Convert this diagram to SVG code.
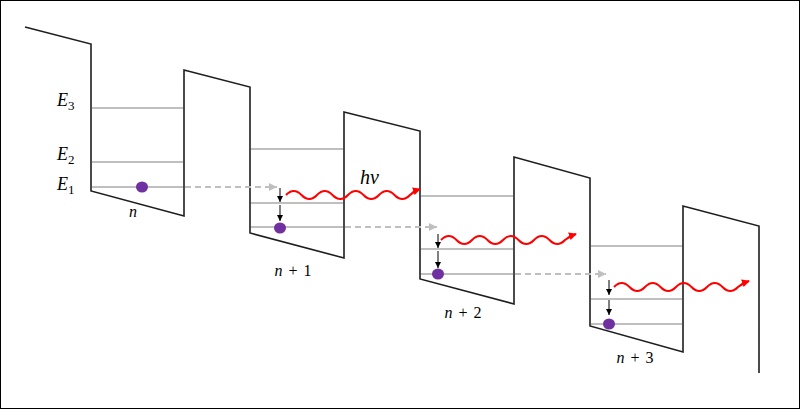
<svg xmlns="http://www.w3.org/2000/svg" width="800" height="409" viewBox="0 0 800 409">
<style>
.band{fill:none;stroke:#1e1e1e;stroke-width:1.6;stroke-linejoin:miter}
.lvl{stroke:#bfbfbf;stroke-width:2}
.dash{stroke:#bfbfbf;stroke-width:2;stroke-dasharray:6 4;fill:none}
.drop{stroke:#000;stroke-width:1;fill:none}
.wave{stroke:#ff0000;stroke-width:2;fill:none}
.e{fill:#7030a0}
.lbl{font-family:"Liberation Serif","DejaVu Serif",serif;fill:#000}
.it{font-style:italic}
.nl{font-size:16px;word-spacing:2px}
</style>
<defs>
<marker id="ag" markerWidth="10" markerHeight="10" refX="8" refY="4" orient="auto" markerUnits="userSpaceOnUse">
<path d="M0,0 L8,4 L0,8 Z" fill="#bfbfbf"/>
</marker>
<marker id="ab" markerWidth="8" markerHeight="8" refX="6" refY="3" orient="auto" markerUnits="userSpaceOnUse">
<path d="M0,0 L6,3 L0,6 Z" fill="#000"/>
</marker>
<marker id="ar" markerWidth="10" markerHeight="10" refX="7" refY="4" orient="auto" markerUnits="userSpaceOnUse">
<path d="M0,0 L8,4 L0,8 Z" fill="#ff0000"/>
</marker>
</defs>
<rect x="0.5" y="0.5" width="799" height="408" fill="#fff" stroke="#000" stroke-width="1"/>

<g id="band-profile">
<polyline class="band" points="25,27 91,44 91,191 184,216 184,70 250,87 250,233 344,258 344,112 420,131 420,279 514,304 514,157 590,178 590,326 683,352 683,206 759,226 759,373"/>
</g>

<g id="well-n">
<line class="lvl" x1="92" y1="108" x2="183" y2="108"/>
<line class="lvl" x1="92" y1="162" x2="183" y2="162"/>
<line class="lvl" x1="92" y1="187" x2="183" y2="187"/>
<ellipse class="e" cx="142" cy="187" rx="6" ry="5.5"/>
<text class="lbl it" x="57" y="106" font-size="18">E<tspan font-size="13" font-style="normal" dy="4">3</tspan></text>
<text class="lbl it" x="57" y="160" font-size="18">E<tspan font-size="13" font-style="normal" dy="4">2</tspan></text>
<text class="lbl it" x="57" y="190" font-size="18">E<tspan font-size="13" font-style="normal" dy="4">1</tspan></text>
<text class="lbl it" x="133" y="217" font-size="16" text-anchor="middle">n</text>
</g>

<g id="well-n1">
<line class="lvl" x1="251" y1="149" x2="343" y2="149"/>
<line class="lvl" x1="251" y1="203" x2="343" y2="203"/>
<line class="lvl" x1="251" y1="227" x2="343" y2="227"/>
<ellipse class="e" cx="280" cy="228" rx="6" ry="5.5"/>
<text class="lbl nl" x="293" y="276" text-anchor="middle"><tspan class="it">n</tspan> + 1</text>
</g>

<g id="well-n2">
<line class="lvl" x1="421" y1="196" x2="513" y2="196"/>
<line class="lvl" x1="421" y1="249" x2="513" y2="249"/>
<line class="lvl" x1="421" y1="274" x2="513" y2="274"/>
<ellipse class="e" cx="438" cy="274" rx="6" ry="5.5"/>
<text class="lbl nl" x="463" y="318" text-anchor="middle"><tspan class="it">n</tspan> + 2</text>
</g>

<g id="well-n3">
<line class="lvl" x1="591" y1="246" x2="682" y2="246"/>
<line class="lvl" x1="591" y1="299" x2="682" y2="299"/>
<line class="lvl" x1="591" y1="324" x2="682" y2="324"/>
<ellipse class="e" cx="609" cy="324" rx="6" ry="5.5"/>
<text class="lbl nl" x="635" y="363" text-anchor="middle"><tspan class="it">n</tspan> + 3</text>
</g>

<g id="connectors">
<line class="dash" x1="185" y1="187" x2="277" y2="187" marker-end="url(#ag)"/>
<line class="dash" x1="345" y1="227" x2="437" y2="227" marker-end="url(#ag)"/>
<line class="dash" x1="515" y1="274" x2="606" y2="274" marker-end="url(#ag)"/>

<line class="drop" x1="280" y1="188" x2="280" y2="202" marker-end="url(#ab)"/>
<line class="drop" x1="280" y1="205" x2="280" y2="221" marker-end="url(#ab)"/>
<line class="drop" x1="438" y1="234" x2="438" y2="248" marker-end="url(#ab)"/>
<line class="drop" x1="438" y1="251" x2="438" y2="268" marker-end="url(#ab)"/>
<line class="drop" x1="609" y1="280" x2="609" y2="295" marker-end="url(#ab)"/>
<line class="drop" x1="609" y1="300" x2="609" y2="315" marker-end="url(#ab)"/>

<path class="wave" d="M286 195 q7.75 -8 15.5 0 t15.5 0 t15.5 0 t15.5 0 t15.5 0 t15.5 0 t15.5 0 t15.5 0 q4 -4 10 -6" marker-end="url(#ar)"/>
<path class="wave" d="M441 240 q7.75 -8 15.5 0 t15.5 0 t15.5 0 t15.5 0 t15.5 0 t15.5 0 t15.5 0 t15.5 0 q5 -4 11 -6" marker-end="url(#ar)"/>
<path class="wave" d="M614 287 q7.75 -8 15.5 0 t15.5 0 t15.5 0 t15.5 0 t15.5 0 t15.5 0 t15.5 0 t15.5 0 q5 -4 11 -6" marker-end="url(#ar)"/>
<text class="lbl it" x="360" y="184" font-size="20">hν</text>
</g>
</svg>
